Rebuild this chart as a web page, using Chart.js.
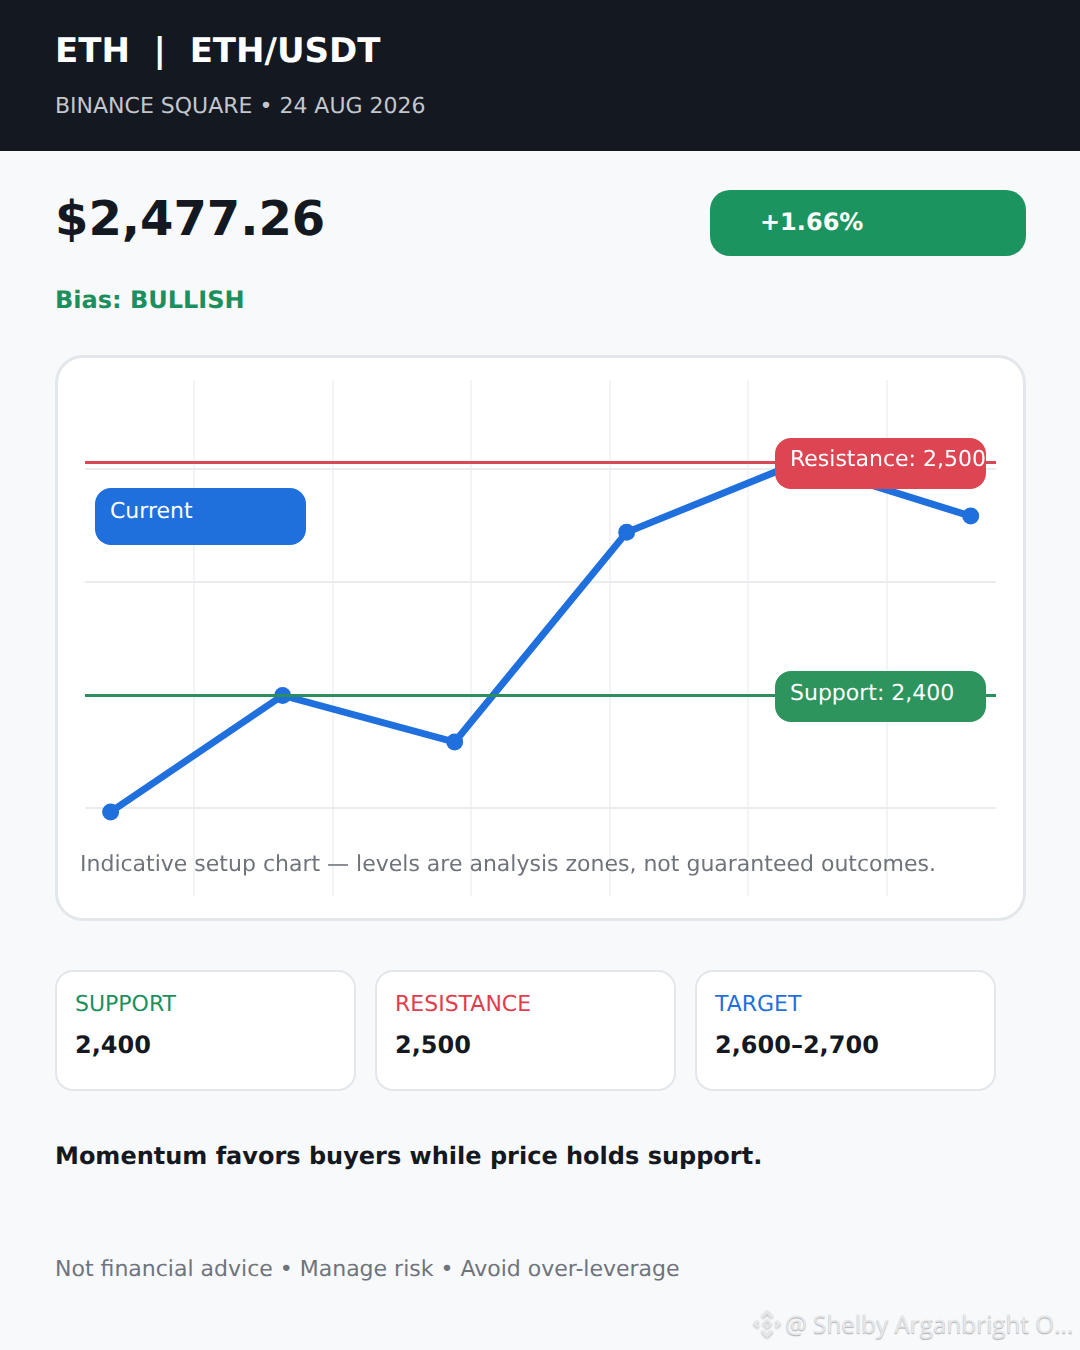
<!DOCTYPE html>
<html>
<head>
<meta charset="utf-8">
<script src="https://cdn.jsdelivr.net/npm/chart.js@4"></script>
<style>
html,body{margin:0;padding:0;}
body{width:1080px;height:1350px;position:relative;overflow:hidden;background:#f8f9fb;font-family:"DejaVu Sans",sans-serif;text-rendering:geometricPrecision;}
.t{position:absolute;white-space:pre;line-height:1;}
.box{position:absolute;box-sizing:border-box;}
#head{left:0;top:0;width:1080px;height:151px;background:#141820;}
#card{left:55px;top:355px;width:971px;height:566px;background:#fff;border:3px solid #e3e6eb;border-radius:28px;}
#cv{position:absolute;left:85px;top:380px;width:911px;height:516px;}
.pill{position:absolute;box-sizing:border-box;border-radius:16px;color:#fff;font-size:22px;line-height:1;white-space:pre;}
.stat{top:970px;width:301px;height:121px;background:#fff;border:2px solid #e3e6eb;border-radius:18px;}
</style>
</head>
<body>
<div class="box" id="head"></div>
<div class="t" style="left:55px;top:34px;font-size:34px;font-weight:700;color:#fff;">ETH  |  ETH/USDT</div>
<div class="t" style="left:55px;top:96px;font-size:22px;color:#c3c7cd;">BINANCE SQUARE • 24 AUG 2026</div>
<div class="t" style="left:55px;top:195px;font-size:48px;font-weight:700;color:#141820;">$2,477.26</div>
<div class="box" style="left:710px;top:190px;width:316px;height:66px;background:#1b9460;border-radius:20px;"></div>
<div class="t" style="left:760px;top:210px;font-size:24px;font-weight:700;color:#fff;">+1.66%</div>
<div class="t" style="left:55px;top:288px;font-size:24px;font-weight:700;color:#1c8f5f;">Bias: BULLISH</div>

<div class="box" id="card"></div>
<canvas id="cv" width="911" height="516"></canvas>
<div class="pill" style="left:95px;top:488px;width:211px;height:57px;background:#1f6fdc;padding:13px 0 0 15px;">Current</div>
<div class="pill" style="left:775px;top:438px;width:211px;height:51px;background:#dc4551;padding:11px 0 0 15px;">Resistance: 2,500</div>
<div class="pill" style="left:775px;top:671px;width:211px;height:51px;background:#2e945e;padding:12px 0 0 15px;">Support: 2,400</div>
<div class="t" style="left:80px;top:854px;font-size:22px;color:#6f737b;">Indicative setup chart — levels are analysis zones, not guaranteed outcomes.</div>

<div class="box stat" style="left:55px;"></div>
<div class="box stat" style="left:375px;"></div>
<div class="box stat" style="left:695px;"></div>
<div class="t" style="left:75px;top:994px;font-size:22px;color:#1c8f5f;">SUPPORT</div>
<div class="t" style="left:395px;top:994px;font-size:22px;color:#e03e4c;">RESISTANCE</div>
<div class="t" style="left:715px;top:994px;font-size:22px;color:#1f6fdc;">TARGET</div>
<div class="t" style="left:75px;top:1033px;font-size:24px;font-weight:700;color:#141820;">2,400</div>
<div class="t" style="left:395px;top:1033px;font-size:24px;font-weight:700;color:#141820;">2,500</div>
<div class="t" style="left:715px;top:1033px;font-size:24px;font-weight:700;color:#141820;">2,600–2,700</div>

<div class="t" style="left:55px;top:1144px;font-size:24px;font-weight:700;color:#141820;">Momentum favors buyers while price holds support.</div>
<div class="t" style="left:55px;top:1259px;font-size:22px;color:#6f737b;">Not financial advice • Manage risk • Avoid over-leverage</div>

<svg style="position:absolute;left:752px;top:1309px;filter:drop-shadow(0 1px 1px rgba(90,90,90,.45));" width="30" height="30" viewBox="0 0 30 30" fill="#e6e7ea">
  <path fill-rule="evenodd" d="M15 1l6 6-2 2-4-4-4 4-2-2zM5 11l2 2-2 2 2 2-2 2-4-4zM25 11l4 4-4 4-2-2 2-2-2-2zM15 10l5 5-5 5-5-5zM15 12.500l-2.500 2.500 2.500 2.500 2.500-2.500zM15 29l-6-6 2-2 4 4 4-4 2 2z"/>
</svg>
<div class="t" style="left:785px;top:1313px;font-family:'Open Sans',sans-serif;font-size:24.3px;color:#e6e7ea;text-shadow:0 1px 1px rgba(90,90,90,.5);">@ Shelby Arganbright O...</div>

<script>
const pointIndex = [0, 1, 2, 3, 4, 5];
const priceValues = [2350, 2400, 2380, 2470, 2500, 2477];
const supportLevel = 2400;
const resistanceLevel = 2500;
const xBounds = [-0.149, 5.147];
const yBounds = [2313.9, 2535.4];
const xGridValues = [0.485, 1.292, 2.094, 2.903, 3.703, 4.511];
const yGridValues = [2351.7, 2400, 2448.7, 2497.2];

const levelLine = (v, color) => ({
  data: xBounds.map(x => ({x, y: v})),
  borderColor: color, borderWidth: 3, pointRadius: 0, order: 0
});

new Chart(document.getElementById('cv'), {
  type: 'line',
  data: {
    datasets: [
      levelLine(resistanceLevel, '#d94854'),
      levelLine(supportLevel, '#2a8f5c'),
      {
        data: pointIndex.map((x, i) => ({x, y: priceValues[i]})),
        borderColor: '#1f6fdc', backgroundColor: '#1f6fdc',
        borderWidth: 7, pointRadius: 8.5, pointBorderWidth: 0,
        pointBackgroundColor: '#1f6fdc', tension: 0, order: 1
      }
    ]
  },
  options: {
    responsive: false, animation: false, devicePixelRatio: 1,
    layout: {padding: 0, autoPadding: false},
    plugins: {legend: {display: false}, tooltip: {enabled: false}},
    scales: {
      x: {
        type: 'linear', min: xBounds[0], max: xBounds[1],
        afterBuildTicks: a => { a.ticks = xGridValues.map(value => ({value})); },
        ticks: {display: false},
        border: {display: false},
        grid: {color: '#f3f4f6', lineWidth: 2, drawTicks: false}
      },
      y: {
        type: 'linear', min: yBounds[0], max: yBounds[1],
        afterBuildTicks: a => { a.ticks = yGridValues.map(value => ({value})); },
        ticks: {display: false},
        border: {display: false},
        grid: {color: '#ebecf0', lineWidth: 2, drawTicks: false}
      }
    }
  }
});
</script>
</body>
</html>
